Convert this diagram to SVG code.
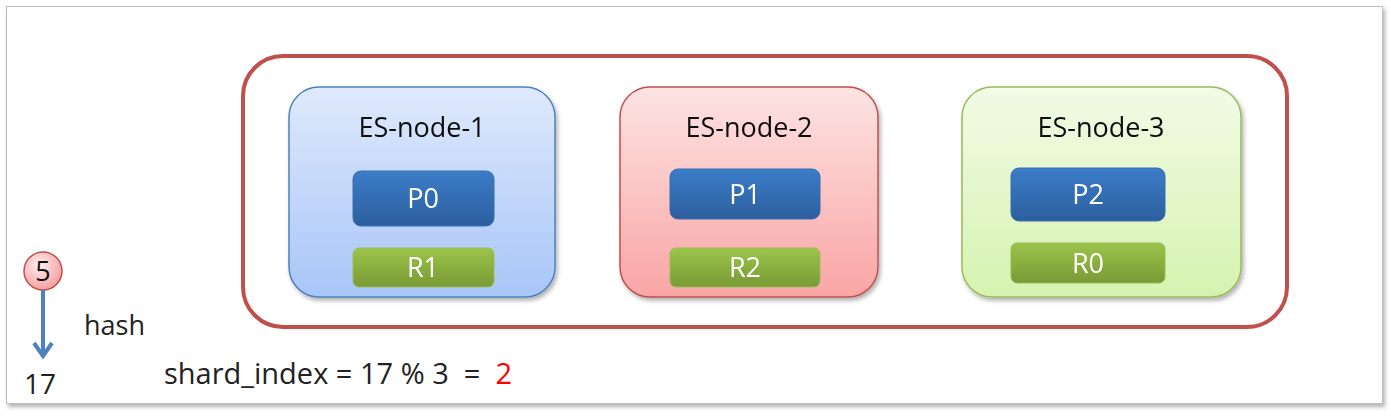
<svg xmlns="http://www.w3.org/2000/svg" width="1391" height="416" viewBox="0 0 1391 416">
<style>
text{font-family:"Open Sans","Noto Sans","Liberation Sans",sans-serif}
.t{font-size:27px;fill:#111;text-anchor:middle}
.s{font-size:27px;fill:#fff;text-anchor:middle}
.P{fill:url(#gp);stroke:#3a6eb0;stroke-width:1}
.R{fill:url(#gr);stroke:#9bbb59;stroke-width:1}
.n{stroke-width:1.5}
</style>
<defs>
<linearGradient id="gb" x1="0" y1="0" x2="0" y2="1"><stop offset="0" stop-color="#dfe9fc"/><stop offset="1" stop-color="#a8c6f8"/></linearGradient>
<linearGradient id="gred" x1="0" y1="0" x2="0" y2="1"><stop offset="0" stop-color="#fde3e3"/><stop offset="1" stop-color="#faa5a5"/></linearGradient>
<linearGradient id="gg" x1="0" y1="0" x2="0" y2="1"><stop offset="0" stop-color="#f2fbe6"/><stop offset="1" stop-color="#d6f2b0"/></linearGradient>
<linearGradient id="gp" x1="0" y1="0" x2="0" y2="1"><stop offset="0" stop-color="#3b7cc8"/><stop offset="1" stop-color="#2c5f9e"/></linearGradient>
<linearGradient id="gr" x1="0" y1="0" x2="0" y2="1"><stop offset="0" stop-color="#9cc44a"/><stop offset="1" stop-color="#789a35"/></linearGradient>
<radialGradient id="gc" cx="0.4" cy="0.35" r="0.7"><stop offset="0" stop-color="#fff0f0"/><stop offset="1" stop-color="#f59a9a"/></radialGradient>
<filter id="sh" x="-10%" y="-10%" width="130%" height="130%"><feDropShadow dx="2" dy="3" stdDeviation="2" flood-opacity="0.3"/></filter>
<marker id="ah" markerWidth="10" markerHeight="10" refX="5" refY="5" orient="auto" markerUnits="userSpaceOnUse" viewBox="0 0 10 10"><path d="M0,0 L5,5 L0,10" fill="none" stroke="#4f81bd" stroke-width="2"/></marker>
</defs>
<rect x="0" y="0" width="1391" height="416" fill="#fff"/>
<rect x="6.5" y="6.5" width="1376" height="397" fill="#fff" stroke="#bfbfbf" filter="url(#sh)"/>
<rect id="cluster" x="243" y="56" width="1044" height="271" rx="40" fill="none" stroke="#c0504d" stroke-width="4"/>
<g id="node1" filter="url(#sh)">
<rect class="n" x="289" y="87" width="266" height="210" rx="30" fill="url(#gb)" stroke="#4f81bd"/>
<text class="t" x="422" y="137">ES-node-1</text>
<rect class="P" x="353" y="171" width="141" height="55" rx="8"/><text class="s" x="423" y="208">P0</text>
<rect class="R" x="353" y="248" width="141" height="39" rx="6"/><text class="s" x="423" y="277">R1</text>
</g>
<g id="node2" filter="url(#sh)">
<rect class="n" x="620" y="87" width="258" height="210" rx="30" fill="url(#gred)" stroke="#c0504d"/>
<text class="t" x="749" y="137">ES-node-2</text>
<rect class="P" x="670" y="169" width="150" height="50" rx="8"/><text class="s" x="745" y="204">P1</text>
<rect class="R" x="670" y="248" width="150" height="39" rx="6"/><text class="s" x="745" y="277">R2</text>
</g>
<g id="node3" filter="url(#sh)">
<rect class="n" x="962" y="87" width="279" height="210" rx="30" fill="url(#gg)" stroke="#9bbb59"/>
<text class="t" x="1101" y="137">ES-node-3</text>
<rect class="P" x="1011" y="168" width="154" height="53" rx="8"/><text class="s" x="1088" y="204">P2</text>
<rect class="R" x="1011" y="243" width="154" height="40" rx="6"/><text class="s" x="1088" y="273">R0</text>
</g>
<g id="hashnode">
<circle cx="43" cy="271" r="19" fill="url(#gc)" stroke="#c0504d" stroke-width="1.5"/>
<text x="43" y="281" font-size="27" text-anchor="middle" fill="#111">5</text>
</g>
<g id="connectors">
<line x1="43" y1="290" x2="43" y2="355" stroke="#4f81bd" stroke-width="4"/>
<path d="M34,343 L43,356 L52,343" fill="none" stroke="#4f81bd" stroke-width="4"/>
</g>
<text x="84" y="335" font-size="27" fill="#222">hash</text>
<text x="24" y="394" font-size="28" fill="#222">17</text>
<text x="164" y="384" font-size="29" fill="#222" xml:space="preserve">shard_index = 17 % 3  =  <tspan fill="#ff0000">2</tspan></text>
</svg>
